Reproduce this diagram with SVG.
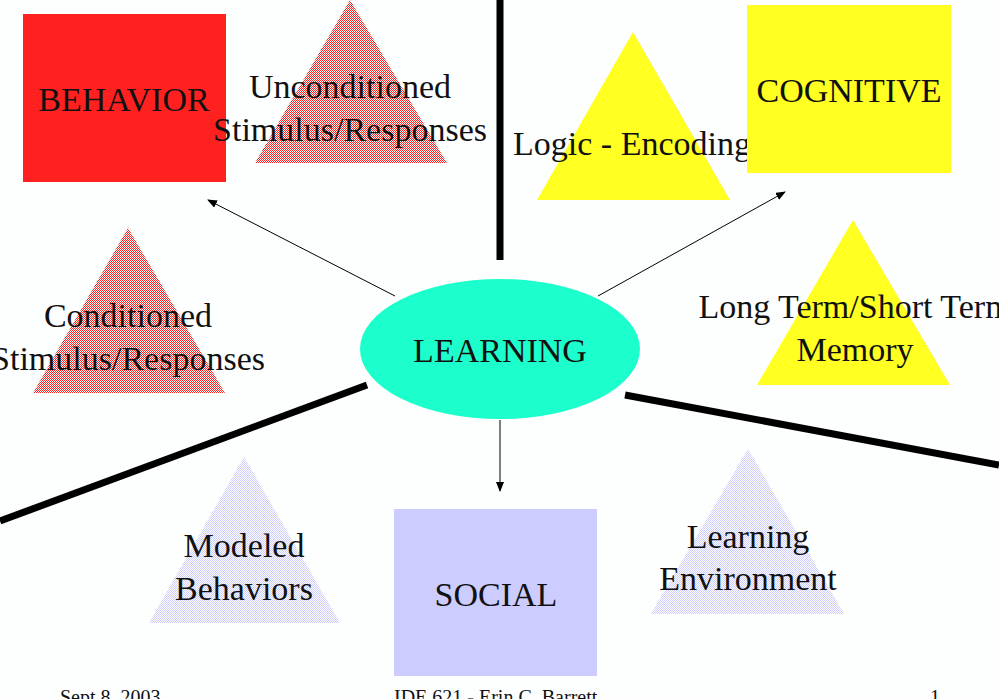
<svg xmlns="http://www.w3.org/2000/svg" width="999" height="699" viewBox="0 0 999 699">
<style>
text{font-family:"Liberation Serif",serif;fill:#111;text-anchor:middle}
.big{font-size:34px}
.foot{font-size:20px;text-anchor:start}
.arr{stroke:#000;stroke-width:1;fill:none;marker-end:url(#ah)}
.thick{stroke:#000;stroke-width:7}
</style>
<defs>
<pattern id="redchk" width="2" height="2" patternUnits="userSpaceOnUse"><rect width="2" height="2" fill="#fff"/><rect width="1" height="1" fill="#f22"/><rect x="1" y="1" width="1" height="1" fill="#f22"/></pattern>
<pattern id="bluchk" width="2" height="2" patternUnits="userSpaceOnUse"><rect width="2" height="2" fill="#fff"/><rect width="1" height="1" fill="#ccf"/><rect x="1" y="1" width="1" height="1" fill="#ccf"/></pattern>
<marker id="ah" markerWidth="10" markerHeight="8" refX="9" refY="4" orient="auto" markerUnits="userSpaceOnUse"><path d="M0,0L10,4L0,8z" fill="#000"/></marker>
</defs>
<rect width="999" height="699" fill="#fdfefe"/>
<g id="connectors">
<line class="thick" x1="500" y1="0" x2="500" y2="260"/>
<line class="thick" x1="0" y1="521" x2="367" y2="385"/>
<line class="thick" x1="625" y1="395" x2="999" y2="465"/>
<line class="arr" x1="395" y1="296" x2="208" y2="200"/>
<line class="arr" x1="598" y1="296" x2="785" y2="192"/>
<line class="arr" x1="500" y1="420" x2="500" y2="491"/>
</g>
<g id="behavior"><rect x="23" y="14" width="203" height="168" fill="#ff2020"/><text class="big" x="124" y="111">BEHAVIOR</text></g>
<g id="unconditioned"><polygon points="350,0 447,163 255,163" fill="url(#redchk)"/><text class="big" x="350" y="98">Unconditioned</text><text class="big" x="350" y="141">Stimulus/Responses</text></g>
<g id="conditioned"><polygon points="128,228 225,393 33,393" fill="url(#redchk)"/><text class="big" x="128" y="327">Conditioned</text><text class="big" x="128" y="370">Stimulus/Responses</text></g>
<g id="logic"><polygon points="633,32 730,200 537,200" fill="#ffff22"/><text class="big" x="632" y="155">Logic - Encoding</text></g>
<g id="cognitive"><rect x="747" y="5" width="204" height="168" fill="#ffff22"/><text class="big" x="849" y="102">COGNITIVE</text></g>
<g id="memory"><polygon points="853,220 950,385 757,385" fill="#ffff22"/><text class="big" x="855" y="318">Long Term/Short Term</text><text class="big" x="855" y="361">Memory</text></g>
<g id="learning"><ellipse cx="500" cy="349" rx="140" ry="70" fill="#1cffcc"/><text class="big" x="500" y="362">LEARNING</text></g>
<g id="modeled"><polygon points="244,457 340,623 149,623" fill="url(#bluchk)"/><text class="big" x="244" y="557">Modeled</text><text class="big" x="244" y="600">Behaviors</text></g>
<g id="social"><rect x="394" y="509" width="203" height="167" fill="#ccccff"/><text class="big" x="496" y="606">SOCIAL</text></g>
<g id="environment"><polygon points="748,449 844,614 651,614" fill="url(#bluchk)"/><text class="big" x="748" y="548">Learning</text><text class="big" x="748" y="590">Environment</text></g>
<g id="footer"><text class="foot" x="60" y="704">Sept 8, 2003</text><text class="foot" x="394" y="704">IDE 621 - Erin C. Barrett</text><text class="foot" x="930" y="704">1</text></g>
</svg>
